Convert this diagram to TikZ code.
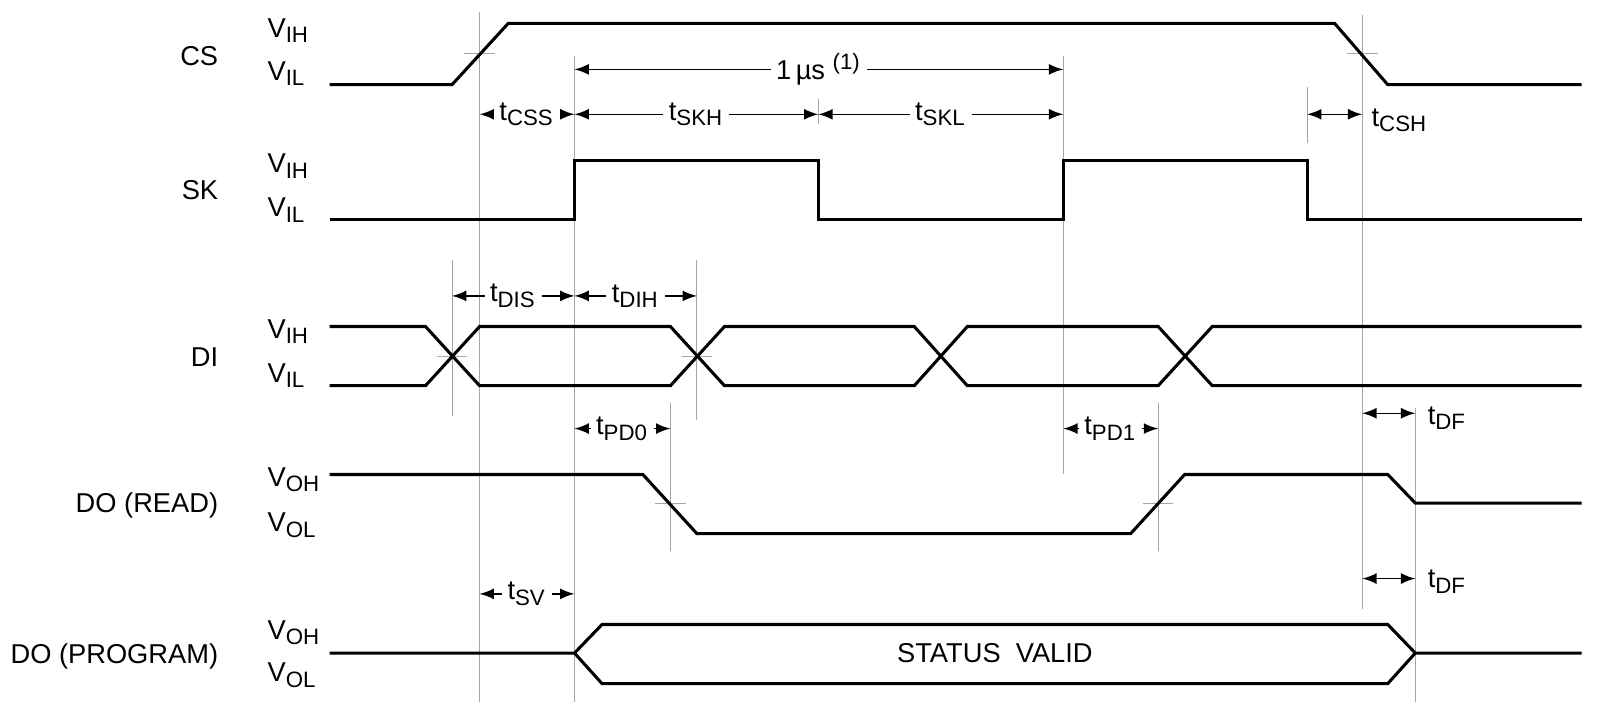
\documentclass[tikz,border=0pt]{standalone}
\usepackage{fontspec}
\setmainfont{Liberation Sans}
\usetikzlibrary{arrows}
\tikzset{
  sig/.style={line width=0.85pt, line join=miter},
  guide/.style={line width=0.3pt, gray!70},
  dim/.style={line width=0.4pt, latex-latex},
  lbl/.style={font=\fontsize{7.6}{9}\selectfont, inner sep=1pt},
  dimlbl/.style={lbl, fill=white, inner sep=1.5pt},
}
\newcommand{\tm}[1]{t\textsubscript{\fontsize{6.2}{7}\selectfont #1}}
\newcommand{\vv}[1]{V\textsubscript{\fontsize{6.2}{7}\selectfont #1}}
\newcommand{\dimline}[4]{\draw[dim](#1,#3)--(#2,#3) node[dimlbl, midway]{#4};}
\begin{document}
\begin{tikzpicture}[x=0.01cm, y=-0.01cm]
% signal names
\node[lbl, anchor=east] (ncs) at (218,55) {CS};
\node[lbl, anchor=east] (nsk) at (218,186) {SK};
\node[lbl, anchor=east] (ndi) at (218,350) {DI};
\node[lbl, anchor=east] (nrd) at (218,495) {DO (READ)};
\node[lbl, anchor=east] (npg) at (218,643) {DO (PROGRAM)};
% levels
\foreach \y/\t in {30/IH,72/IL,163/IH,206/IL,325/IH,368/IL,470/OH,620/OH,662/OL}{
  \node[lbl, anchor=west] at (258,\y) {\vv{\t}};}
\node[lbl, anchor=west] at (258,515) {\vv{OL}};
% guide lines
\draw[guide] (470,12)--(470,688) (563,55)--(563,688) (443,255)--(443,408) (683,255)--(683,412)
  (802,97)--(802,122) (1042,55)--(1042,465) (657,395)--(657,540) (1135,395)--(1135,540)
  (1281,85)--(1281,140) (1335,15)--(1335,597) (1387,400)--(1387,688);
\draw[guide] (455,52)--(485,52) (1320,52)--(1350,52) (428,349)--(458,349) (668,349)--(698,349)
  (642,493)--(672,493) (1120,493)--(1150,493);
% waveforms
\draw[sig] (323,83)--(443,83)--(498,23)--(1308,23)--(1360,83)--(1550,83);
\draw[sig] (323,215)--(563,215)--(563,157)--(802,157)--(802,215)--(1042,215)--(1042,157)--(1281,157)--(1281,215)--(1550,215);
\draw[sig] (323,320)--(417,320)--(470,378)--(657,378)--(710,320)--(896,320)--(948,378)--(1135,378)--(1188,320)--(1550,320);
\draw[sig] (323,378)--(417,378)--(470,320)--(657,320)--(710,378)--(896,378)--(948,320)--(1135,320)--(1188,378)--(1550,378);
\draw[sig] (323,465)--(630,465)--(683,523)--(1108,523)--(1161,465)--(1360,465)--(1387,493)--(1550,493);
\draw[sig] (323,640)--(563,640)--(590,612)--(1360,612)--(1387,640)--(1550,640)
  (563,640)--(590,670)--(1360,670)--(1387,640);
\node[lbl] (stv) at (975,640) {STATUS\ \ VALID};
% timing parameters
\dimline{563}{1042}{68}{1\,µs \textsuperscript{\fontsize{6.2}{7}\selectfont (1)}}
\dimline{470}{563}{112}{\tm{CSS}}
\dimline{563}{802}{112}{\tm{SKH}}
\dimline{802}{1042}{112}{\tm{SKL}}
\draw[dim] (1281,112)--(1335,112);
\node[lbl, anchor=west] at (1340,118) {\tm{CSH}};
\dimline{443}{563}{290}{\tm{DIS}}
\dimline{563}{683}{290}{\tm{DIH}}
\dimline{563}{657}{420}{\tm{PD0}}
\dimline{1042}{1135}{420}{\tm{PD1}}
\draw[dim] (1335,405)--(1387,405);
\node[lbl, anchor=west] at (1395,410) {\tm{DF}};
\draw[dim] (1335,567)--(1387,567);
\node[lbl, anchor=west] at (1395,570) {\tm{DF}};
\dimline{470}{563}{582}{\tm{SV}}
\pgfresetboundingbox
\useasboundingbox (0,0) rectangle (1568,701.7);
\end{tikzpicture}
\end{document}
